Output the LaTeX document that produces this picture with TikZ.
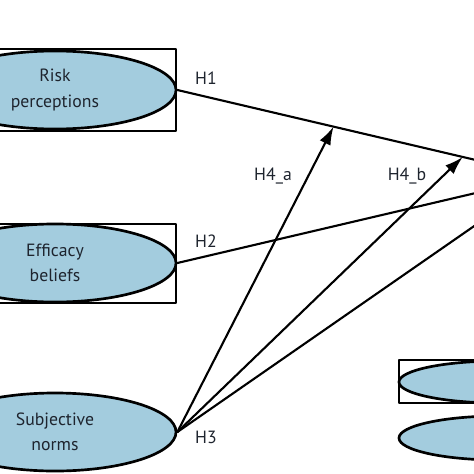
\documentclass[tikz,border=0pt]{standalone}
\usepackage{fontspec}
\setmainfont{PT Sans}
\usetikzlibrary{shapes.geometric,arrows.meta,calc}
\definecolor{ellfill}{RGB}{163,204,222}
\definecolor{txtcol}{RGB}{30,36,46}
\begin{document}
\begin{tikzpicture}[x=0.025cm,y=-0.025cm,line join=round,line cap=round,
	font=\fontsize{12.6}{17.8}\selectfont,
	construct/.style={ellipse,draw,line width=1.9pt,fill=ellfill,text=txtcol,align=center,
		inner sep=0pt,minimum width=6.05cm,minimum height=1.95cm},
	smallconstruct/.style={ellipse,draw,line width=1.9pt,fill=ellfill,inner sep=0pt,minimum width=5cm},
	frame/.style={line width=1.5pt},
	link/.style={line width=1.5pt},
	hyp/.style={text=txtcol},
	>={Latex[length=13pt,width=8.5pt]}]
	\useasboundingbox (0,0) rectangle (474,474);
	\clip (0,0) rectangle (474,474);
	% khung chu nhat
	\draw[frame] (-10,49) rectangle (176,131);
	\draw[frame] (-10,224) rectangle (176,303);
	\draw[frame] (399,360) rectangle (490,403);
	% cac nut hinh elip
	\node[construct] (risk) at (55,90) {Risk\\perceptions};
	\node[construct] (efficacy) at (55,263) {Efficacy\\beliefs};
	\node[construct] (norms) at (55,432) {Subjective\\norms};
	\node[smallconstruct,minimum height=1.05cm] (outA) at (499,382) {};
	\node[smallconstruct,minimum height=1.1cm] (outB) at (499,438) {};
	% diem ngoai khung
	\path
	(480,161) coordinate (E1)
	(480,192) coordinate (E2)
	(480,222) coordinate (E3);
	\path
	($(risk.east)!0.516!(E1)$) coordinate (Ta)
	($(risk.east)!0.943!(E1)$) coordinate (Tb);
	% cac duong noi
	\draw[link] (risk.east)--(E1);
	\draw[link] (efficacy.east)--(E2);
	\draw[link] (norms.east)--(E3);
	\draw[link,->] (norms.east)--(Ta);
	\draw[link,->] (norms.east)--(Tb);
	% nhan
	\node[hyp] (h1) at (206,78) {H1};
	\node[hyp] (h2) at (206,241) {H2};
	\node[hyp] (h3) at (206,437) {H3};
	\node[hyp] (h4a) at (273,176) {H4\_a};
	\node[hyp] (h4b) at (407,176) {H4\_b};
\end{tikzpicture}
\end{document}
